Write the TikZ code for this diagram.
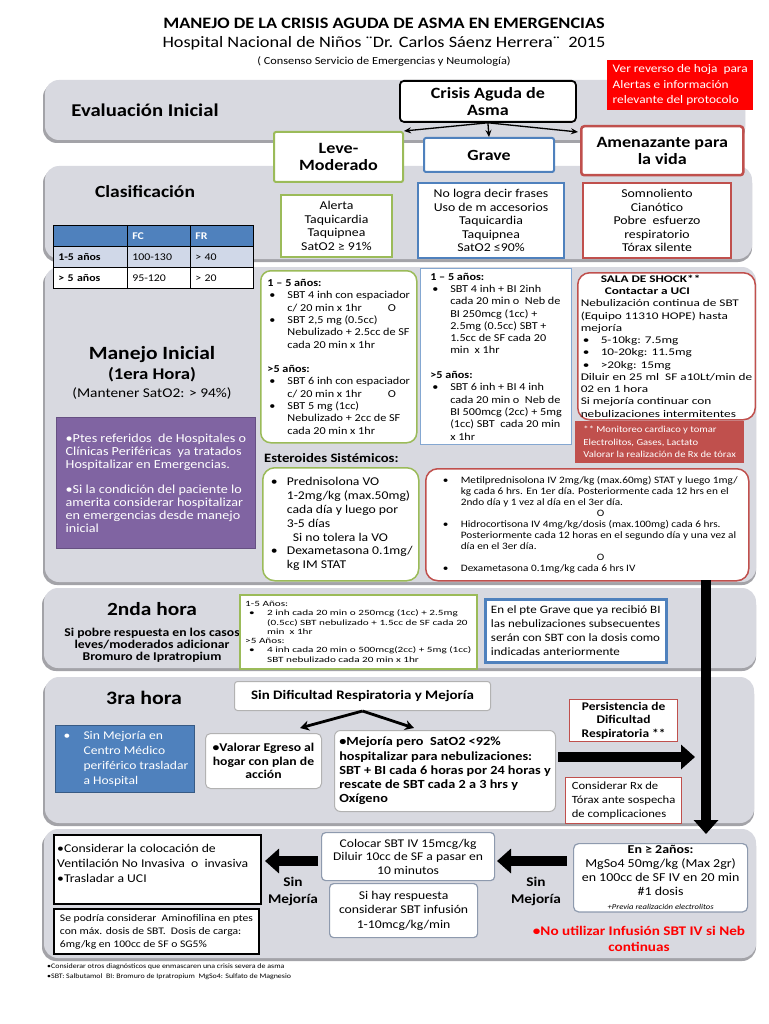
\documentclass[tikz,border=0pt]{standalone}
\usepackage{fontspec}
\setmainfont{Carlito}[FakeStretch=1.15]
\newfontfamily\fC{Carlito}[FakeStretch=1.3]
\newfontfamily\fD{Carlito}[FakeStretch=1.4]
\usetikzlibrary{arrows.meta,calc}
\definecolor{bandgray}{HTML}{D8D9E0}
\definecolor{shadowgray}{HTML}{A3A3A8}
\definecolor{grn}{HTML}{9BBB59}
\definecolor{blu}{HTML}{4F81BD}
\definecolor{rdb}{HTML}{C0504D}
\definecolor{purp}{HTML}{8064A2}
\definecolor{brightred}{HTML}{FF0000}
\definecolor{tblrow}{HTML}{D0D8E8}
\definecolor{boxgray}{HTML}{8E9AAE}
\newcommand\fs[2]{\fontsize{#1}{#2}\selectfont}
\newcommand\bulx[2]{\makebox[#2][l]{\hspace{#1}\textbullet}}
\newcommand\bul{\bulx{2pt}{20pt}}
\newcommand\ind{\hspace*{20pt}}
\begin{document}
\begin{tikzpicture}[x=1pt,y=-1pt,
  every node/.style={inner sep=0pt},
  box/.style={draw, fill=white, anchor=north west, inner xsep=4pt, inner ysep=2pt, align=center},
  cell/.style={draw=black, line width=0.7pt, anchor=north west, minimum height=21pt, inner xsep=5pt, align=left, font=\fs{10.3}{12}},
  thinarr/.style={-{Stealth[length=7pt,width=6pt]}, line width=1.3pt},
  medarr/.style={-{Stealth[length=9pt,width=10pt]}, line width=2.8pt},
  bigarr/.style={-{Triangle[length=14pt,width=24pt]}, line width=10pt}]
\useasboundingbox (0,0) rectangle (768,1024);
\fill[white] (0,0) rectangle (768,1024);
% bands
\foreach \a/\b/\c/\d in {45/80/745/140, 45/166/752/259, 45/267/756/582, 44/588/756/668, 45/677/754/823, 44/829/756/958} {
  \fill[shadowgray, rounded corners=14pt] (\a-2,\b+3) rectangle (\c,\d+3);
  \fill[bandgray, rounded corners=14pt] (\a,\b) rectangle (\c,\d);
}
% title
\node[font=\bfseries\fs{15.9}{18}] (title) at (384,23) {MANEJO DE LA CRISIS AGUDA DE ASMA EN EMERGENCIAS};
\node[font=\fs{15.9}{18}] (hosp) at (384,43) {Hospital Nacional de Niños ¨Dr. Carlos Sáenz Herrera¨~~2015};
\node[font=\fs{10.7}{12}] (cons) at (384,62) {( Consenso Servicio de Emergencias y Neumología)};
% evaluation
\node[box, draw=none, fill=brightred, text=white, align=left, minimum width=146pt, minimum height=50pt, inner xsep=3pt, font=\fs{11.6}{15.5}] (reverso) at (607,60) {Ver reverso de hoja~ para\\Alertas e información\\relevante del protocolo};
\node[font=\bfseries\fs{18}{22}] (evalu) at (145,110) {Evaluación Inicial};
\node[box, draw=black, line width=1.8pt, rounded corners=4pt, minimum width=176pt, minimum height=41pt, font=\bfseries\fs{15.7}{17}] (crisis) at (399,80) {Crisis Aguda de\\Asma};
\node[box, draw=grn, line width=2pt, rounded corners=2pt, minimum width=129pt, minimum height=50pt, font=\bfseries\fs{15.7}{17}] (leve) at (273,131) {Leve-\\Moderado};
\node[box, draw=blu, line width=2pt, rounded corners=2pt, minimum width=130pt, minimum height=34pt, font=\bfseries\fs{15.5}{17}] (grave) at (423,137) {Grave};
\node[box, draw=rdb, line width=2.5pt, rounded corners=3pt, minimum width=162pt, minimum height=49pt, font=\bfseries\fs{15.7}{17}] (amen) at (580,125) {Amenazante para\\la vida};
\draw[thinarr] (crisis.south) -- (leve.north east);
\draw[thinarr] (crisis.south) -- (grave.north);
\draw[thinarr] (crisis.south) -- ($(amen.north west)+(-2,7)$);
% classification
\node[font=\bfseries\fs{17}{22}] (clasif) at (145,192) {Clasificación};
\node[cell, fill=blu, text width=64pt] (t00) at (53,225) {};
\node[cell, fill=blu, text width=53pt, text=white, font=\bfseries\fs{10.3}{12}] (t01) at (127,225) {FC};
\node[cell, fill=blu, text width=53pt, text=white, font=\bfseries\fs{10.3}{12}] (t02) at (190,225) {FR};
\node[cell, fill=tblrow, text width=64pt] (t10) at (53,246) {\textbf{1-5 años}};
\node[cell, fill=tblrow, text width=53pt] (t11) at (127,246) {100-130};
\node[cell, fill=tblrow, text width=53pt] (t12) at (190,246) {> 40};
\node[cell, fill=white, text width=64pt] (t20) at (53,267) {\textbf{> 5 años}};
\node[cell, fill=white, text width=53pt] (t21) at (127,267) {95-120};
\node[cell, fill=white, text width=53pt] (t22) at (190,267) {> 20};
\node[box, draw=grn, line width=2pt, minimum width=111pt, minimum height=62pt, font=\fs{12}{13.5}] (alerta) at (280,194) {Alerta\\Taquicardia\\Taquipnea\\SatO2 ≥ 91\%};
\node[box, draw=blu, line width=2pt, minimum width=146pt, minimum height=75pt, font=\fs{12}{13.4}] (signosg) at (417,182) {No logra decir frases\\Uso de m accesorios\\Taquicardia\\Taquipnea\\SatO2 ≤90\%};
\node[box, draw=rdb, line width=2pt, minimum width=148pt, minimum height=75pt, font=\fs{12}{13.4}] (signosa) at (582,182) {Somnoliento\\Cianótico\\Pobre~ esfuerzo\\respiratorio\\Tórax silente};
% manejo inicial
\node[font=\bfseries\fs{18.7}{22}] (manejo) at (152,355) {Manejo Inicial};
\node[font=\bfseries\fs{16.3}{17}] (hora1) at (152,375) {(1era Hora)};
\node[font=\fs{13.4}{16}] (mant) at (152,394) {(Mantener SatO2: > 94\%)};
\node[box, draw=purp!80!black, line width=0.8pt, fill=purp, text=white, align=left, minimum width=199pt, minimum height=131pt, font=\fs{12.3}{13}] (purple) at (56,417) {•Ptes referidos~ de Hospitales o\\Clínicas Periféricas~ ya tratados\\Hospitalizar en Emergencias.\\[12pt]•Si la condición del paciente lo\\amerita considerar hospitalizar\\en emergencias desde manejo\\inicial};
\node[box, draw=grn, line width=1.5pt, rounded corners=10pt, align=left, minimum width=156pt, minimum height=172pt, font=\fs{10.6}{12.3}] (mleve) at (260,270) {\textbf{1 – 5 años:}\\
\bul SBT 4 inh con espaciador\\
\ind c/ 20 min x 1hr\hspace{26pt}O\\
\bul SBT 2,5 mg (0.5cc)\\
\ind Nebulizado + 2.5cc de SF\\
\ind cada 20 min x 1hr\\[12.3pt]
\textbf{>5 años:}\\
\bul SBT 6 inh con espaciador\\
\ind c/ 20 min x 1hr\hspace{26pt}O\\
\bul SBT 5 mg (1cc)\\
\ind Nebulizado + 2cc de SF\\
\ind cada 20 min x 1hr};
\node[box, draw=blu!70, line width=1pt, align=left, minimum width=151pt, minimum height=176pt, font=\fs{10.6}{12.3}] (mgrave) at (420,268) {\textbf{1 – 5 años:}\\
\bul SBT 4 inh + BI 2inh\\
\ind cada 20 min o~ Neb de\\
\ind BI 250mcg (1cc) +\\
\ind 2.5mg (0.5cc) SBT +\\
\ind 1.5cc de SF cada 20\\
\ind min~ x 1hr\\[12.3pt]
\textbf{>5 años:}\\
\bul SBT 6 inh + BI 4 inh\\
\ind cada 20 min o~ Neb de\\
\ind BI 500mcg (2cc) + 5mg\\
\ind (1cc) SBT~ cada 20 min\\
\ind x 1hr};
\node[box, draw=rdb, line width=1.5pt, rounded corners=12pt, align=left, minimum width=175pt, minimum height=147pt, inner xsep=3pt, font=\fC\fs{10.2}{12.25}] (shock) at (577,272) {\hspace*{20pt}\textbf{SALA DE SHOCK**}\\
\hspace*{24pt}\textbf{Contactar a UCI}\\
Nebulización continua de SBT\\
(Equipo 11310 HOPE) hasta\\
mejoría\\
\bul 5-10kg: 7.5mg\\
\bul 10-20kg: 11.5mg\\
\bul >20kg: 15mg\\
Diluir en 25 ml~ SF a10Lt/min de\\
02 en 1 hora\\
Si mejoría continuar con\\
nebulizaciones intermitentes};
\node[box, draw=none, fill=rdb, text=white, align=left, minimum width=169pt, minimum height=42pt, font=\fs{9.2}{12.5}] (monit) at (575,421) {** Monitoreo cardiaco y tomar\\Electrolitos, Gases, Lactato\\Valorar la realización de Rx de tórax};
\node[anchor=west, font=\bfseries\fs{12.8}{14}] (ester) at (264,458) {Esteroides Sistémicos:};
\node[box, draw=grn, line width=1.5pt, rounded corners=12pt, align=left, minimum width=156pt, minimum height=113pt, font=\fs{11.9}{13.8}] (sgreen) at (262,467) {\bulx{2pt}{18pt}Prednisolona VO\\
\hspace*{18pt}1-2mg/kg (max.50mg)\\
\hspace*{18pt}cada día y luego por\\
\hspace*{18pt}3-5 días\\
\hspace*{24pt}Si no tolera la VO\\
\bulx{2pt}{18pt}Dexametasona 0.1mg/\\
\hspace*{18pt}kg IM STAT};
\node[box, draw=rdb, line width=1.5pt, rounded corners=12pt, align=left, minimum width=323pt, minimum height=112pt, font=\fs{9.8}{11}] (sred) at (425,468) {\bulx{6pt}{24pt}Metilprednisolona IV 2mg/kg (max.60mg) STAT y luego 1mg/\\
\hspace*{24pt}kg cada 6 hrs. En 1er día. Posteriormente cada 12 hrs en el\\
\hspace*{24pt}2ndo día y 1 vez al día en el 3er día.\\
\hspace*{160pt}O\\
\bulx{6pt}{24pt}Hidrocortisona IV 4mg/kg/dosis (max.100mg) cada 6 hrs.\\
\hspace*{24pt}Posteriormente cada 12 horas en el segundo día y una vez al\\
\hspace*{24pt}día en el 3er día.\\
\hspace*{160pt}O\\
\bulx{6pt}{24pt}Dexametasona 0.1mg/kg cada 6 hrs IV};
% vertical arrow
\coordinate (vtop) at (706,580);
\coordinate (vbot) at (706,834);
\draw[bigarr] (vtop) -- (vbot);
% 2nda hora
\node[font=\bfseries\fs{18.6}{22}] (h2) at (152,609) {2nda hora};
\node[font=\bfseries\fs{11.9}{12}, align=center] (h2sub) at (152,645) {Si pobre respuesta en los casos\\leves/moderados adicionar\\Bromuro de Ipratropium};
\node[box, draw=grn, line width=1.5pt, align=left, minimum width=237pt, minimum height=74pt, font=\fD\fs{8}{9.2}] (g2) at (239,594) {1-5 Años:\\
\bulx{4pt}{22pt}2 inh cada 20 min o 250mcg (1cc) + 2.5mg\\
\hspace*{22pt}(0.5cc) SBT nebulizado + 1.5cc de SF cada 20\\
\hspace*{22pt}min~ x 1hr\\
>5 Años:\\
\bulx{4pt}{22pt}4 inh cada 20 min o 500mcg(2cc) + 5mg (1cc)\\
\hspace*{22pt}SBT nebulizado cada 20 min x 1hr};
\node[box, draw=blu, line width=2.5pt, align=left, minimum width=181pt, minimum height=63pt, font=\fs{11.3}{14}] (b2) at (484,598) {En el pte Grave que ya recibió BI\\las nebulizaciones subsecuentes\\serán con SBT con la dosis como\\indicadas anteriormente};
% 3ra hora
\node[font=\bfseries\fs{19}{22}] (h3) at (144,698) {3ra hora};
\node[box, draw=blu!70!black, line width=0.8pt, fill=blu, text=white, align=left, minimum width=139pt, minimum height=67pt, font=\fs{11.8}{15}] (b3) at (55,725) {\bulx{2pt}{22pt}Sin Mejoría en\\\hspace*{22pt}Centro Médico\\\hspace*{22pt}periférico trasladar\\\hspace*{22pt}a Hospital};
\node[box, draw=gray!60, line width=1pt, rounded corners=3pt, minimum width=256pt, minimum height=29pt, font=\bfseries\fs{13}{14}] (sindif) at (234,681) {Sin Dificultad Respiratoria y Mejoría};
\node[box, draw=gray!60, line width=1pt, rounded corners=5pt, minimum width=116pt, minimum height=55pt, font=\bfseries\fs{11.9}{13.5}] (valorar) at (205,733) {•Valorar Egreso al\\hogar con plan de\\acción};
\node[box, draw=gray!60, line width=1pt, rounded corners=6pt, align=left, minimum width=221pt, minimum height=81pt, font=\bfseries\fs{12.4}{14.3}] (mejoria) at (334,730) {•Mejoría pero~ SatO2 <92\%\\hospitalizar para nebulizaciones:\\SBT + BI cada 6 horas por 24 horas y\\rescate de SBT cada 2 a 3 hrs y\\Oxígeno};
\draw[medarr] (sindif.south) -- ($(valorar.north east)+(-22,-5)$);
\draw[medarr] (sindif.south) -- ($(mejoria.north west)+(80,-2)$);
\node[box, draw=rdb, line width=1.2pt, minimum width=108pt, minimum height=42pt, font=\bfseries\fs{11.7}{13.7}] (persist) at (569,699) {Persistencia de\\Dificultad\\Respiratoria **};
\coordinate (rA) at (558,757);
\coordinate (rB) at (695,757);
\draw[bigarr] (rA) -- (rB);
\node[box, draw=rdb, line width=1.2pt, align=left, minimum width=116pt, minimum height=46pt, font=\fs{11}{13.8}] (rx) at (565,777) {Considerar Rx de\\Tórax ante sospecha\\de complicaciones};
% bottom
\node[box, draw=black, line width=2pt, minimum width=207pt, minimum height=69pt] (vni) at (53,834) {};
\node[anchor=north west, align=left, font=\fs{11.9}{15}] (vnitext) at ($(vni.north west)+(4,10)$) {•Considerar la colocación de\\Ventilación No Invasiva~ o~ invasiva\\•Trasladar a UCI};
\node[box, draw=black, line width=2pt, align=left, minimum width=205pt, minimum height=45pt, font=\fs{10.1}{13}] (amino) at (53,908) {Se podría considerar~ Aminofilina en ptes\\con máx. dosis de SBT.~ Dosis de carga:\\6mg/kg en 100cc de SF o SG5\%};
\node[box, draw=boxgray, line width=1.2pt, rounded corners=4pt, minimum width=173pt, minimum height=48pt, font=\fs{11.8}{13.5}] (colocar) at (321,832) {Colocar SBT IV 15mcg/kg\\Diluir 10cc de SF a pasar en\\10 minutos};
\node[box, draw=boxgray, line width=1.2pt, rounded corners=4pt, minimum width=148pt, minimum height=54pt, font=\fs{11.9}{14.5}] (sihay) at (329,883) {Si hay respuesta\\considerar SBT infusión\\1-10mcg/kg/min};
\node[box, draw=boxgray, line width=1.2pt, rounded corners=5pt, minimum width=174pt, minimum height=65pt, font=\fs{12.1}{14}] (enbox) at (573,843) {\textbf{En ≥ 2años:}\\MgSo4 50mg/kg (Max 2gr)\\en 100cc de SF IV en 20 min\\\#1 dosis\\{\itshape\fs{7.5}{9}+Previa realización electrolitos}};
\coordinate (l1s) at (318,861);
\coordinate (l1e) at (265,861);
\draw[bigarr] (l1s) -- (l1e);
\coordinate (l2s) at (567,861);
\coordinate (l2e) at (497,861);
\draw[bigarr] (l2s) -- (l2e);
\node[font=\bfseries\fs{13.3}{17}, align=center] (sm1) at (293,891) {Sin\\Mejoría};
\node[font=\bfseries\fs{13.3}{17}, align=center] (sm2) at (536,891) {Sin\\Mejoría};
\node[text=brightred, font=\bfseries\fs{13.2}{16}, align=center] (noinf) at (639,939) {•No utilizar Infusión SBT IV si Neb\\continuas};
\node[anchor=west, font=\fs{6.9}{8}] (fn1) at (47,967) {•Considerar otros diagnósticos que enmascaren una crisis severa de asma};
\node[anchor=west, font=\fs{6.9}{8}] (fn2) at (47,977) {•SBT: Salbutamol~ BI: Bromuro de Ipratropium~ MgSo4: Sulfato de Magnesio};
\end{tikzpicture}
\end{document}
